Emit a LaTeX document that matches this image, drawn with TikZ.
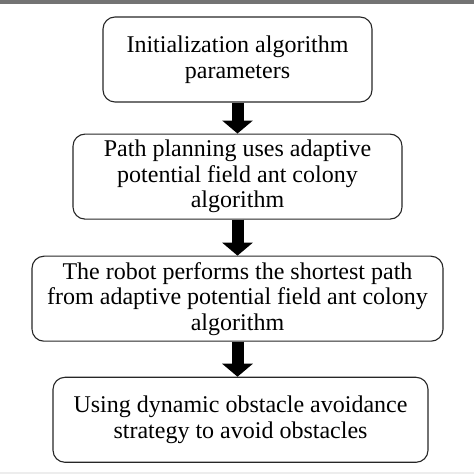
\documentclass[tikz,border=0pt]{standalone}
\usepackage{fontspec}
\setmainfont{Liberation Serif}
\usetikzlibrary{positioning, arrows.meta}

\begin{document}
\begin{tikzpicture}[x=1pt, y=1pt, node distance={33pt}, thick,
    stepbox/.style = {draw=black!85, line width=1.1pt, rounded corners=12pt, align=center,
        minimum height=85pt, inner sep=1pt, font=\fontsize{24}{25.5}\selectfont},
    flow/.style = {line width=12pt, black, -{Triangle[width=30pt, length=13pt]}}]
		\useasboundingbox (0,0) rectangle (474,474);
		\fill[black!55] (0,470) rectangle (474,474);
		\fill[black!7] (0,0) rectangle (474,2);

		\node[stepbox, minimum width=269pt] (init) at (237.5,414.5) {Initialization algorithm\\parameters};
		\node[stepbox, minimum width=329pt] (plan) [below=31pt of init] {Path planning uses adaptive\\potential field ant colony\\algorithm};
		\node[stepbox, minimum width=411pt] (robot) [below=36pt of plan] {The robot performs the shortest path\\from adaptive potential field ant colony\\algorithm};
		\node[stepbox, minimum width=375pt] (avoid) [below=35pt of robot, xshift=3pt] {Using dynamic obstacle avoidance\\strategy to avoid obstacles};

		\draw[flow] (init.south) -- (plan.north);
		\draw[flow] (plan.south) -- (plan.south |- robot.north);
		\draw[flow] (robot.south) -- (robot.south |- avoid.north);

	\end{tikzpicture}
\end{document}
